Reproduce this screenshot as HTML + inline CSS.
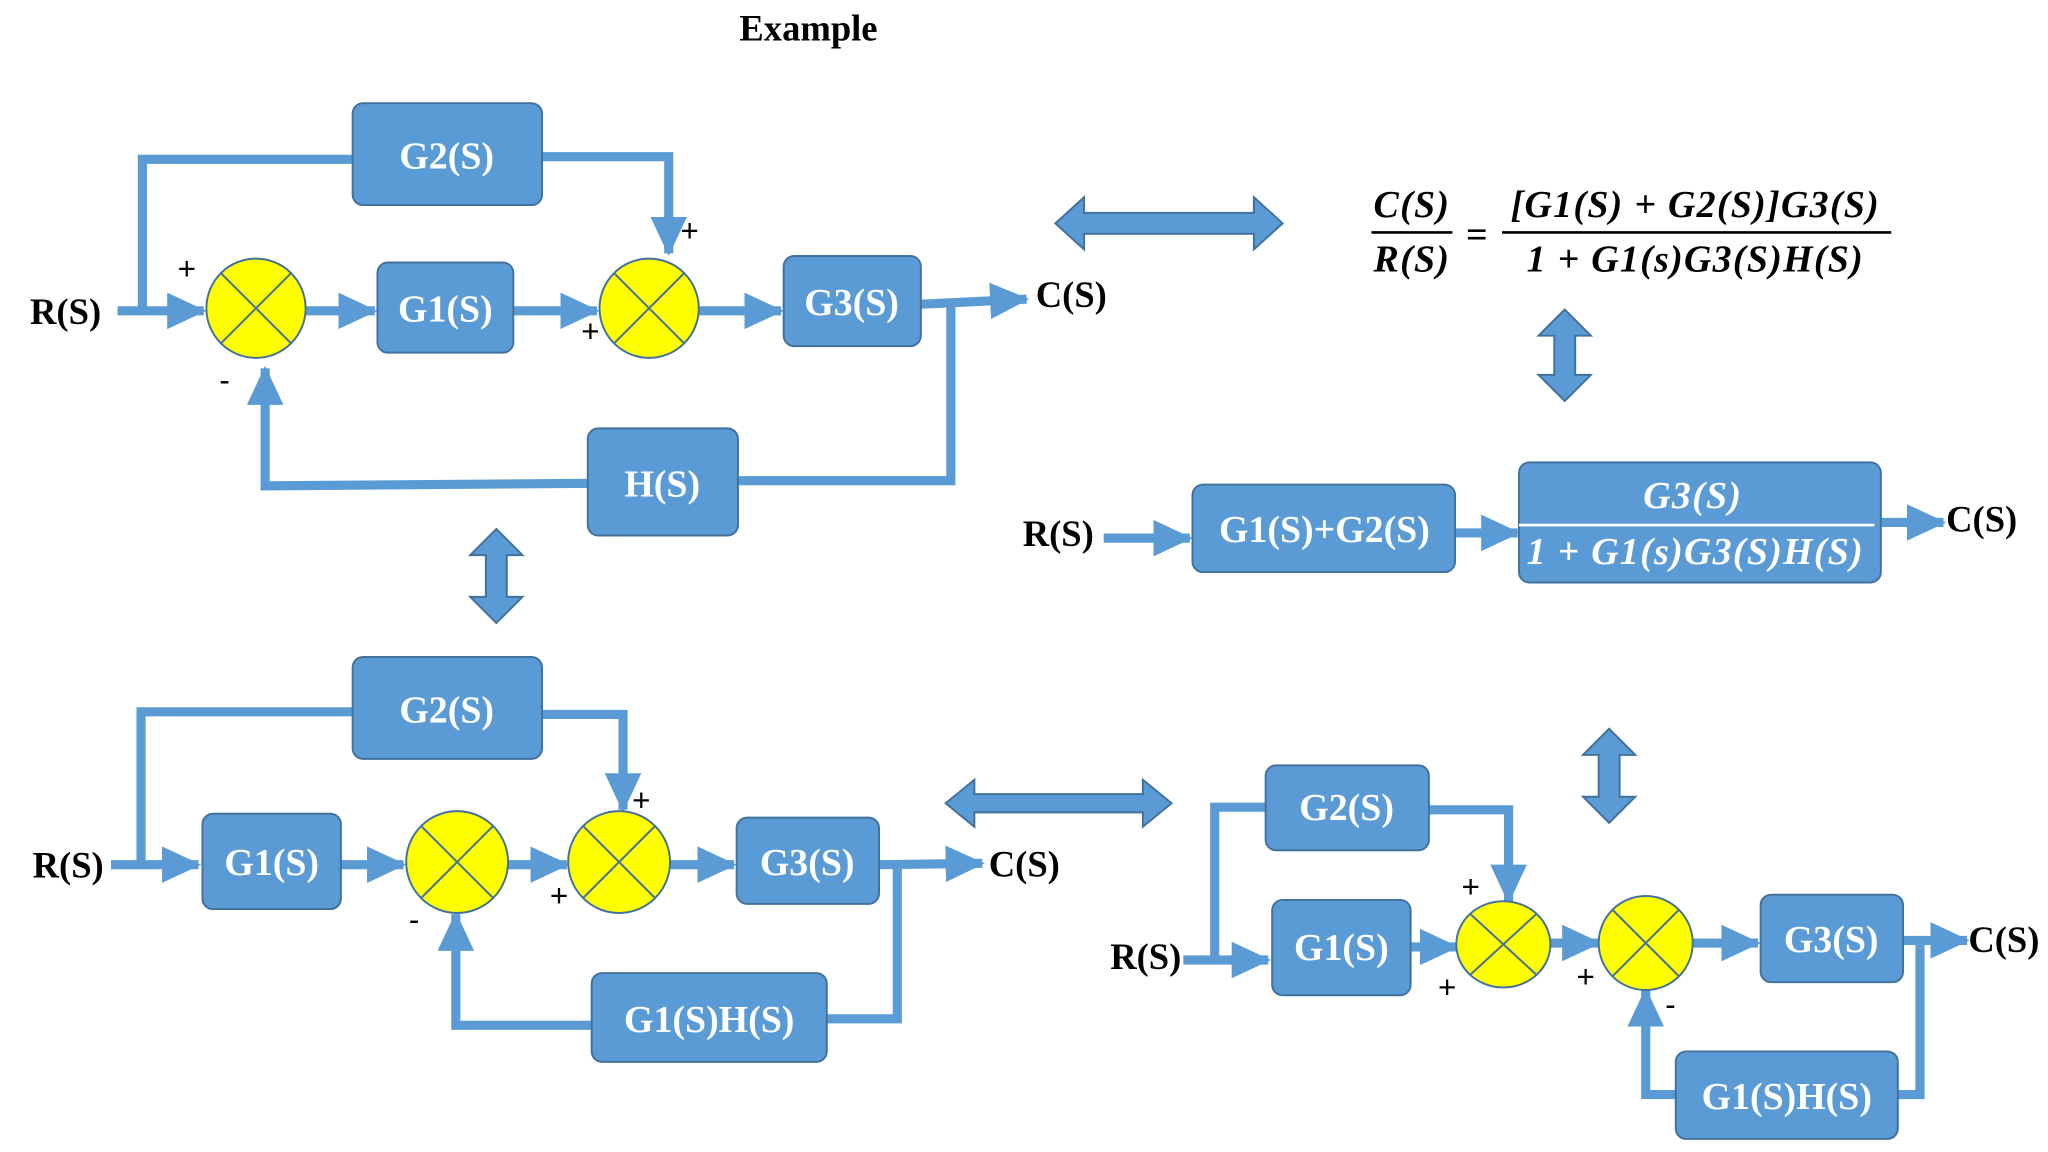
<!DOCTYPE html>
<html><head><meta charset="utf-8"><style>
html,body{margin:0;padding:0;background:#fff;}
svg{display:block;}
.b{fill:#5B9BD5;stroke:#41719C;stroke-width:1.5;}
.t{font-family:"Liberation Serif",serif;font-weight:bold;fill:#fff;font-size:29px;text-anchor:middle;}
.l{font-family:"Liberation Serif",serif;font-weight:bold;fill:#000;font-size:28px;}
.s{font-family:"Liberation Sans",sans-serif;fill:#000;font-size:24px;}
.w{fill:none;stroke:#5B9BD5;stroke-width:7;}
.c{fill:#FFFF00;stroke:#41719C;stroke-width:1.5;}
.x{stroke:#41719C;stroke-width:1.5;}
.m{font-family:"Liberation Serif",serif;font-weight:bold;font-style:italic;fill:#000;font-size:29px;text-anchor:middle;letter-spacing:1px;}
.da{fill:#5B9BD5;stroke:#41719C;stroke-width:1.5;}
</style></head><body>
<svg width="2048" height="1152" viewBox="0 0 1568 882" preserveAspectRatio="none" xmlns="http://www.w3.org/2000/svg">
<defs>
<marker id="a" markerWidth="30" markerHeight="28" refX="28" refY="14" orient="auto" markerUnits="userSpaceOnUse"><path d="M0,0 L30,14 L0,28 Z" fill="#5B9BD5"/></marker>
</defs>
<text x="619" y="31" class="l" text-anchor="middle">Example</text>

<!-- TOP LEFT -->
<text x="23" y="248" class="l">R(S)</text>
<path class="w" d="M90,238 L156,238" marker-end="url(#a)"/>
<path class="w" d="M109,240 L109,122 L272,122"/>
<path class="w" d="M413,120 L512,120 L512,194" marker-end="url(#a)"/>
<path class="w" d="M234,238 L287,238" marker-end="url(#a)"/>
<path class="w" d="M392,238 L457,238" marker-end="url(#a)"/>
<path class="w" d="M534,238 L598,238" marker-end="url(#a)"/>
<path class="w" d="M704,233 L786,229" marker-end="url(#a)"/>
<text x="793" y="235" class="l">C(S)</text>
<path class="w" d="M728,233 L728,368 L563,368"/>
<path class="w" d="M452,370 L203,372 L203,282" marker-end="url(#a)"/>
<rect class="b" x="270" y="79" width="145" height="78" rx="8"/><text x="342" y="129" class="t">G2(S)</text>
<rect class="b" x="289" y="201" width="104" height="69" rx="8"/><text x="341" y="246" class="t">G1(S)</text>
<rect class="b" x="600" y="196" width="105" height="69" rx="8"/><text x="652" y="241" class="t">G3(S)</text>
<rect class="b" x="450" y="328" width="115" height="82" rx="8"/><text x="507" y="380" class="t">H(S)</text>
<circle class="c" cx="196" cy="236" r="38"/><path class="x" d="M169,209 L223,263 M223,209 L169,263"/>
<circle class="c" cx="497" cy="236" r="38"/><path class="x" d="M470,209 L524,263 M524,209 L470,263"/>
<text x="136" y="214" class="s">+</text><text x="521" y="185" class="s">+</text><text x="445" y="262" class="s">+</text><text x="168" y="299" class="s">-</text>

<!-- double arrows -->
<polygon class="da" points="808,171 830,151 830,163 960,163 960,151 982,171 960,191 960,179 830,179 830,191"/>
<polygon class="da" points="1198,237 1218,257 1206,257 1206,287 1218,287 1198,307 1178,287 1190,287 1190,257 1178,257"/>
<polygon class="da" points="380,405 400,425 388,425 388,457 400,457 380,477 360,457 372,457 372,425 360,425"/>
<polygon class="da" points="724,615 746,597 746,608 875,608 875,597 897,615 875,633 875,622 746,622 746,633"/>
<polygon class="da" points="1232,558 1252,578 1240,578 1240,610 1252,610 1232,630 1212,610 1224,610 1224,578 1212,578"/>

<!-- equation -->
<text x="1081" y="166" class="m">C(S)</text>
<line x1="1050" y1="178" x2="1112" y2="178" stroke="#000" stroke-width="2"/>
<text x="1081" y="208" class="m">R(S)</text>
<text x="1131" y="189" class="m" font-style="normal">=</text>
<text x="1298" y="166" class="m">[G1(S) + G2(S)]G3(S)</text>
<line x1="1150" y1="178" x2="1448" y2="178" stroke="#000" stroke-width="2"/>
<text x="1298" y="208" class="m">1 + G1(s)G3(S)H(S)</text>

<!-- middle right -->
<text x="783" y="418" class="l">R(S)</text>
<path class="w" d="M845,412 L911,412" marker-end="url(#a)"/>
<path class="w" d="M1114,408 L1162,408" marker-end="url(#a)"/>
<path class="w" d="M1440,400 L1488,400" marker-end="url(#a)"/>
<text x="1490" y="407" class="l">C(S)</text>
<rect class="b" x="913" y="371" width="201" height="67" rx="8"/><text x="1014" y="415" class="t">G1(S)+G2(S)</text>
<rect class="b" x="1163" y="354" width="277" height="92" rx="8"/>
<line x1="1163" y1="402" x2="1435" y2="402" stroke="#fff" stroke-width="2"/>
<text x="1296" y="389" class="m" style="fill:#fff">G3(S)</text>
<text x="1298" y="432" class="m" style="fill:#fff">1 + G1(s)G3(S)H(S)</text>

<!-- BOTTOM LEFT -->
<text x="25" y="672" class="l">R(S)</text>
<path class="w" d="M85,662 L152,662" marker-end="url(#a)"/>
<path class="w" d="M108,664 L108,545 L272,545"/>
<path class="w" d="M413,547 L477,547 L477,620" marker-end="url(#a)"/>
<path class="w" d="M261,662 L309,662" marker-end="url(#a)"/>
<path class="w" d="M389,662 L434,662" marker-end="url(#a)"/>
<path class="w" d="M513,662 L562,662" marker-end="url(#a)"/>
<path class="w" d="M673,662 L752,661" marker-end="url(#a)"/>
<text x="757" y="671" class="l">C(S)</text>
<path class="w" d="M687,662 L687,780 L631,780"/>
<path class="w" d="M455,785 L349,785 L349,700" marker-end="url(#a)"/>
<rect class="b" x="270" y="503" width="145" height="78" rx="8"/><text x="342" y="553" class="t">G2(S)</text>
<rect class="b" x="155" y="623" width="106" height="73" rx="8"/><text x="208" y="670" class="t">G1(S)</text>
<rect class="b" x="564" y="626" width="109" height="66" rx="8"/><text x="618" y="670" class="t">G3(S)</text>
<rect class="b" x="453" y="745" width="180" height="68" rx="8"/><text x="543" y="790" class="t">G1(S)H(S)</text>
<circle class="c" cx="350" cy="660" r="39"/><path class="x" d="M322,632 L378,688 M378,632 L322,688"/>
<circle class="c" cx="474" cy="660" r="39"/><path class="x" d="M446,632 L502,688 M502,632 L446,688"/>
<text x="484" y="621" class="s">+</text><text x="421" y="694" class="s">+</text><text x="313" y="712" class="s">-</text>

<!-- BOTTOM RIGHT -->
<text x="850" y="742" class="l">R(S)</text>
<path class="w" d="M906,735 L971,735" marker-end="url(#a)"/>
<path class="w" d="M930,737 L930,618 L971,618"/>
<path class="w" d="M1092,620 L1155,620 L1155,690" marker-end="url(#a)"/>
<path class="w" d="M1080,725 L1115,725" marker-end="url(#a)"/>
<path class="w" d="M1187,722 L1224,722" marker-end="url(#a)"/>
<path class="w" d="M1296,722 L1346,722" marker-end="url(#a)"/>
<path class="w" d="M1457,720 L1506,720" marker-end="url(#a)"/>
<text x="1507" y="729" class="l">C(S)</text>
<path class="w" d="M1470,720 L1470,838 L1451,838"/>
<path class="w" d="M1285,838 L1260,838 L1260,758" marker-end="url(#a)"/>
<rect class="b" x="969" y="586" width="125" height="65" rx="8"/><text x="1031" y="628" class="t">G2(S)</text>
<rect class="b" x="974" y="689" width="106" height="73" rx="8"/><text x="1027" y="735" class="t">G1(S)</text>
<rect class="b" x="1348" y="685" width="109" height="67" rx="8"/><text x="1402" y="729" class="t">G3(S)</text>
<rect class="b" x="1283" y="805" width="170" height="67" rx="8"/><text x="1368" y="849" class="t">G1(S)H(S)</text>
<ellipse class="c" cx="1151" cy="723" rx="36" ry="33"/><path class="x" d="M1126,700 L1176,746 M1176,700 L1126,746"/>
<circle class="c" cx="1260" cy="722" r="36"/><path class="x" d="M1235,697 L1285,747 M1285,697 L1235,747"/>
<text x="1119" y="687" class="s">+</text><text x="1101" y="764" class="s">+</text><text x="1207" y="756" class="s">+</text><text x="1275" y="777" class="s">-</text>
</svg>
</body></html>
